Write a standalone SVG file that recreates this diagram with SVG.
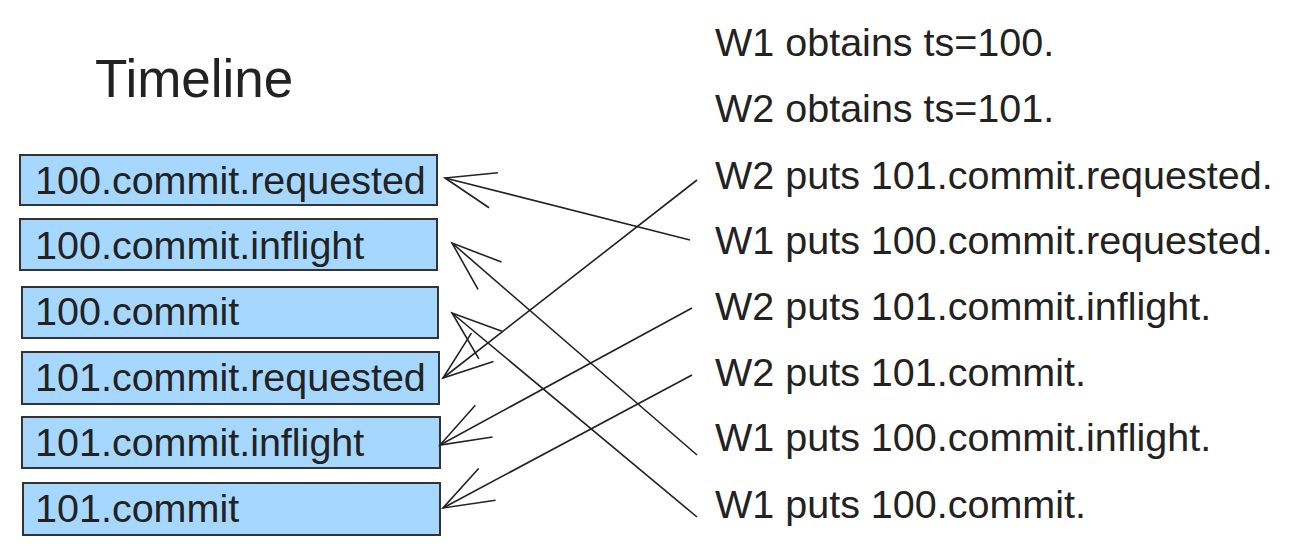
<svg xmlns="http://www.w3.org/2000/svg" width="1298" height="555" viewBox="0 0 1298 555">
<style>
.t{font-family:"Liberation Sans",Arial,sans-serif;fill:#222;font-size:39.5px}
.b{fill:#a6d8ff;stroke:#333;stroke-width:2}
.c{stroke:#222;stroke-width:1.6;fill:none}
</style>
<defs>
<marker id="v" markerUnits="userSpaceOnUse" orient="auto" overflow="visible" markerWidth="1" markerHeight="1" refX="0" refY="0">
<path d="M50,-18 L0,0 L50,18" fill="none" stroke="#222" stroke-width="1.6"/>
</marker>
</defs>
<rect width="1298" height="555" fill="#fff"/>
<text class="t" x="95" y="97" style="font-size:53px">Timeline</text>
<g id="n1"><rect class="b" x="20" y="155" width="417" height="50"/><text class="t" x="35" y="194">100.commit.requested</text></g>
<g id="n2"><rect class="b" x="20" y="219" width="417" height="51"/><text class="t" x="35" y="259">100.commit.inflight</text></g>
<g id="n3"><rect class="b" x="22" y="287" width="416" height="51"/><text class="t" x="35" y="325">100.commit</text></g>
<g id="n4"><rect class="b" x="22" y="352" width="417" height="52"/><text class="t" x="35" y="391">101.commit.requested</text></g>
<g id="n5"><rect class="b" x="22" y="417" width="418" height="51"/><text class="t" x="35" y="456">101.commit.inflight</text></g>
<g id="n6"><rect class="b" x="23" y="483" width="417" height="52"/><text class="t" x="35" y="522">101.commit</text></g>
<g id="steps">
<text class="t" x="715" y="56">W1 obtains ts=100.</text>
<text class="t" x="715" y="122">W2 obtains ts=101.</text>
<text class="t" x="715" y="189">W2 puts 101.commit.requested.</text>
<text class="t" x="715" y="254">W1 puts 100.commit.requested.</text>
<text class="t" x="715" y="320">W2 puts 101.commit.inflight.</text>
<text class="t" x="715" y="386">W2 puts 101.commit.</text>
<text class="t" x="715" y="451">W1 puts 100.commit.inflight.</text>
<text class="t" x="715" y="518">W1 puts 100.commit.</text>
</g>
<g id="connectors">
<line class="c" x1="445" y1="178" x2="690" y2="240" marker-start="url(#v)"/>
<line class="c" x1="443" y1="378" x2="697" y2="180" marker-start="url(#v)"/>
<line class="c" x1="440" y1="445" x2="692" y2="308" marker-start="url(#v)"/>
<line class="c" x1="443" y1="508" x2="692" y2="375" marker-start="url(#v)"/>
<line class="c" x1="452" y1="243" x2="697" y2="455" marker-start="url(#v)"/>
<line class="c" x1="452" y1="313" x2="697" y2="517" marker-start="url(#v)"/>
</g>
</svg>
